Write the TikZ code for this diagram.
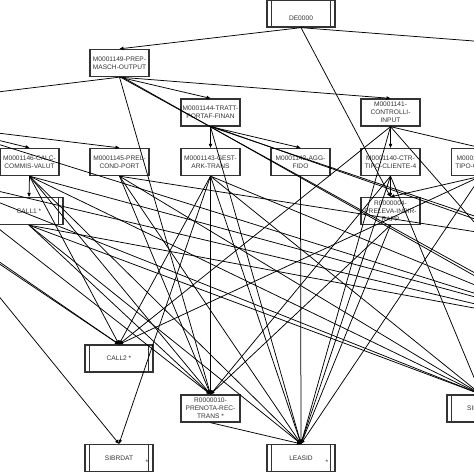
\documentclass[tikz,border=0pt]{standalone}
\usepackage{fontspec}
\setmainfont{Liberation Sans}
\usetikzlibrary{arrows.meta}
\begin{document}
\begin{tikzpicture}[x=1pt,y=-1pt,
  mbox/.style={draw=black!80, line width=1.3pt, fill=white, minimum width=59pt, minimum height=27pt, inner sep=0pt, align=center, font=\fontsize{6.6}{8}\selectfont, text=black!80},
  sbox/.style={mbox, minimum width=68pt},
  lbl/.style={inner sep=0pt, font=\fontsize{6.6}{8}\selectfont, text=black!80},
  subl/.style={draw=black!80, line width=1.3pt},
  e/.style={draw=black, line width=0.75pt, -{Triangle[length=4pt,width=3.4pt]}},
  en/.style={draw=black, line width=0.75pt}]
\useasboundingbox (0,0) rectangle (474,474);
\clip (0,0) rectangle (474,474);
% off-picture ends
\coordinate (OL1t) at (-60,99);
\coordinate (OL1b) at (-60,126);
\coordinate (OL2b) at (-70,175);
\coordinate (OL3b) at (-60,224);
\coordinate (OR1t) at (590,50);
\coordinate (ORa) at (560,320);
\coordinate (ORa2) at (560,324);
\coordinate (ORb) at (560,245);
\coordinate (ORb2) at (560,249);
% nodes
\node[sbox] (DE) at (301,13.5) {};
\node[lbl] (DEt) at (301,18) {DE0000};
\node[mbox] (P149) at (119.5,63) {M0001149-PREP-\\MASCH-OUTPUT};
\node[mbox] (T144) at (210.5,112.5) {M0001144-TRATT-\\PORTAF-FINAN};
\node[mbox] (C141) at (390.5,112.5) {M0001141-\\CONTROLLI-\\INPUT};
\node[mbox] (C146) at (29.5,162) {M0001146-CALC-\\COMMIS-VALUT};
\node[mbox] (P145) at (119.5,162) {M0001145-PREL-\\COND-PORT};
\node[mbox] (G143) at (210.5,162) {M0001143-GEST-\\ARK-TRANS};
\node[mbox] (A142) at (300.5,162) {M0001142-AGG-\\FIDO};
\node[mbox] (T140) at (390.5,162) {M0001140-CTR-\\TIPO-CLIENTE-4};
\node[mbox] (RN) at (481,162) {M0001139-CTR-\\TIPO-CLIENTE-3};
\node[sbox] (CALL) at (29,211) {CALL1 *};
\node[mbox] (R004) at (390.5,211) {R0000004-\\PRELEVA-INDIR-\\RAPP};
\node[sbox] (CALL2) at (119,358.5) {CALL2 *};
\node[mbox] (R010) at (210.5,408.5) {R0000010-\\PRENOTA-REC-\\TRANS *};
\node[sbox] (SIBRDAT) at (119,458) {SIBRDAT};
\node[sbox] (LEASID) at (301,458) {LEASID};
\node[sbox] (SIB) at (481,408.5) {SIBRTAB};
\node[lbl] (st1) at (147,462) {*};
\node[lbl] (st2) at (327,462) {*};
\foreach \n in {DE,CALL,CALL2,SIBRDAT,LEASID,SIB}{
  \draw[subl] ([xshift=5pt]\n.north west) -- ([xshift=5pt]\n.south west);
  \draw[subl] ([xshift=-5pt]\n.north east) -- ([xshift=-5pt]\n.south east);
}
% edges
\draw[e] (DE.south) -- (P149.north);
\draw[en] (DE.south) -- (OR1t);
\draw[e] (DE.south) -- (R004.north);
\draw[en] (P149.south) -- (OL1t);
\draw[e] (P149.south) -- (T144.north);
\draw[e] (P149.south) -- (C141.north);
\draw[e] (P149.south) -- (R010.north);
\draw[en] ([xshift=1pt]P149.south) -- (ORa);
\draw[en] ([xshift=3pt]P149.south) -- (ORa2);
\draw[e] (OL1b) -- (C146.north);
\draw[e] (OL1b) -- (P145.north);
\draw[en] (OL1b) -- (ORa);
\draw[e] (OL2b) -- (R010.north);
\draw[en] (OL2b) -- (ORa2);
\draw[e] (OL2b) -- (SIB.north);
\draw[e] (OL3b) -- (CALL2.north);
\draw[e] ([yshift=3pt]OL3b) -- (CALL2.north);
\draw[e] (OL3b) -- (SIBRDAT.north);
\draw[e] (T144.south) -- (G143.north);
\draw[e] (T144.south) -- (A142.north);
\draw[e] (T144.south) -- (LEASID.north);
\draw[en] (T144.south) -- (ORb);
\draw[en] ([xshift=2pt]T144.south) -- (ORb2);
\draw[e] (C141.south) -- (T140.north);
\draw[e] (C141.south) -- (RN.north);
\draw[e] (C141.south) -- (CALL2.north);
\draw[en] (C141.south) -- (ORa);
\draw[e] (C141.south) -- (LEASID.north);
\draw[e] (T140.south) -- (R004.north);
\draw[e] (T140.south) -- (LEASID.north);
\draw[e] (T140.south) -- (R010.north);
\draw[e] (T140.south) -- (SIB.north);
\draw[e] (RN.south) -- (R004.north);
\draw[e] (RN.south) -- (LEASID.north);
\draw[e] (RN.south) -- (CALL2.north);
\draw[e] (A142.south) -- (LEASID.north);
\draw[e] (G143.south) -- (R010.north);
\draw[e] (G143.south) -- (LEASID.north);
\draw[e] (G143.south) -- (SIBRDAT.north);
\draw[e] (G143.south) -- (CALL2.north);
\draw[e] (G143.south) -- (SIB.north);
\draw[en] (G143.south) -- (ORa);
\draw[e] (C146.south) -- (CALL.north);
\draw[e] (C146.south) -- (CALL2.north);
\draw[e] (C146.south) -- (R010.north);
\draw[e] (C146.south) -- (LEASID.north);
\draw[e] (C146.south) -- (SIB.north);
\draw[en] (C146.south) -- (ORa);
\draw[e] (CALL.south) -- (R010.north);
\draw[e] (CALL.south) -- (LEASID.north);
\draw[e] (CALL.south) -- (SIB.north);
\draw[en] (CALL.south) -- (ORa2);
\draw[e] (P145.south) -- (R010.north);
\draw[e] (P145.south) -- (LEASID.north);
\draw[e] (P145.south) -- (SIB.north);
\draw[en] (P145.south) -- (ORb);
\draw[e] (R004.south) -- (LEASID.north);
\draw[e] (R004.south) -- (R010.north);
\draw[e] (R010.south) -- (LEASID.north);
\end{tikzpicture}
\end{document}
